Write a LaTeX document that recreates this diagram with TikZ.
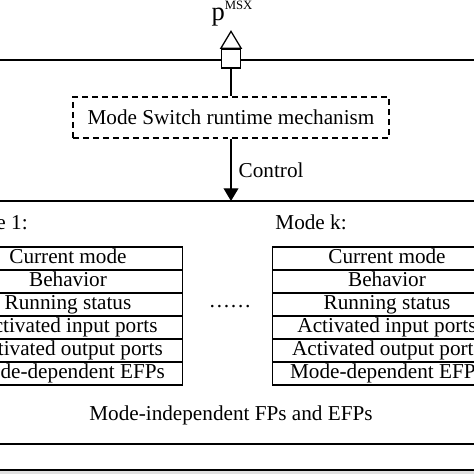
\documentclass[tikz,border=0pt]{standalone}
\usepackage{fontspec}
\setmainfont{Liberation Serif}
\usetikzlibrary{arrows.meta,positioning}

\begin{document}
\begin{tikzpicture}[
      x=0.4715pt, y=-0.4715pt,
      font=\fontsize{10}{12}\selectfont,
      frame/.style={line width=0.9pt},
      cell/.style={draw, line width=0.5pt, minimum width=108.4pt,
        minimum height=10.85pt, inner sep=0pt, text height=7pt, text depth=2pt},
      >={Triangle[width=7pt,length=6pt]}]
    \useasboundingbox (0,0) rectangle (474,474);
    \fill[black!12] (0,470) rectangle (474,474);
    \foreach \y in {60,201,444,470}
      \draw[frame] (0,\y) -- (474,\y);
    % output port
    \node[draw, fill=white, line width=0.6pt, minimum size=9pt, inner sep=0pt] (port) at (231,58.5) {};
    \draw[line width=0.6pt, fill=white] (port.north west) -- ([yshift=8pt]port.north) -- (port.north east) -- cycle;
    \node[anchor=base, inner sep=0pt] (pmsx) at (232,21) {{\fontsize{12.5}{14}\selectfont p}\raisebox{5.6pt}{\fontsize{6}{7}\selectfont MSX}};
    \node[draw, dash pattern=on 2.8pt off 1.9pt, line width=0.6pt,
      minimum width=149pt, minimum height=19.3pt] (msw) at (231,117.5) {Mode Switch runtime mechanism};
    \draw[line width=0.6pt] (port.south) -- (msw.north);
    \coordinate (ctl) at (231,201);
    \draw[->, line width=0.6pt] (msw.south) -- (ctl)
      node[midway, right] {Control};
    % modes
    \node[anchor=west, inner sep=0pt] (mode1) at (-44,222) {Mode 1:};
    \node[anchor=west, inner sep=0pt] (modek) at (275,222) {Mode k:};
    \foreach \i/\t in {1/Current mode,2/Behavior,3/Running status,4/Activated input ports,5/Activated output ports,6/Mode-dependent EFPs} {
      \node[cell] (a\i) at (68,235.5+23*\i) {\t};
      \node[cell] (b\i) at (387,235.5+23*\i) {\t};
    }
    \node (dots) at (230,307) {……};
    \node (indep) at (231,415) {Mode-independent FPs and EFPs};
  \end{tikzpicture}
\end{document}
